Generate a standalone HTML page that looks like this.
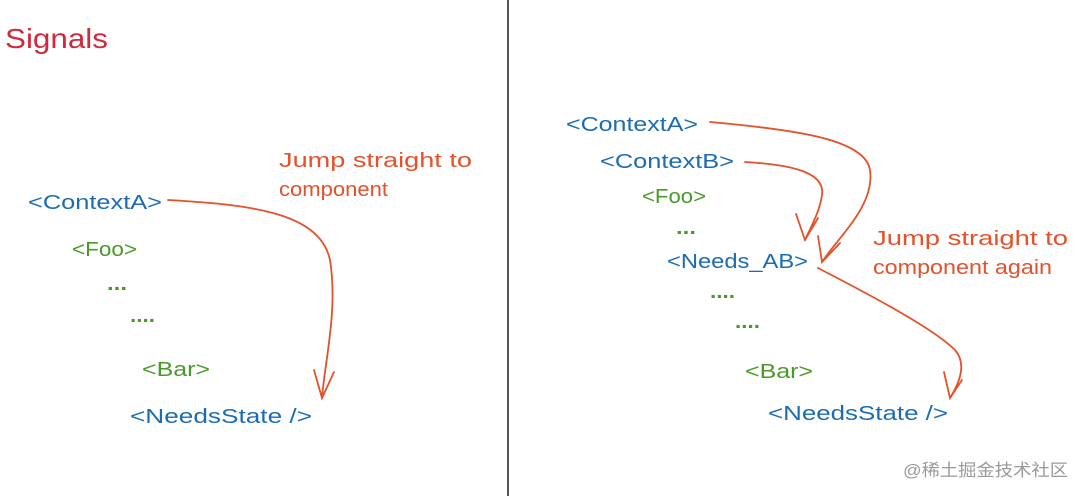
<!DOCTYPE html>
<html><head><meta charset="utf-8"><style>
html,body{margin:0;padding:0;background:#fff;}
svg{display:block}
text{font-family:"Liberation Sans","Noto Sans CJK SC",sans-serif;}
</style></head><body>
<svg width="1080" height="496" viewBox="0 0 1080 496" xmlns="http://www.w3.org/2000/svg">
<rect width="1080" height="496" fill="#fff"/>
<line x1="508" y1="0" x2="508" y2="496" stroke="#555" stroke-width="2"/>
<text x="5" y="48" font-size="28" fill="#d0283c" textLength="103" lengthAdjust="spacingAndGlyphs">Signals</text>
<g font-size="20" fill="#1c6cb4">
<text x="28" y="209" textLength="134" lengthAdjust="spacingAndGlyphs">&lt;ContextA&gt;</text>
<text x="130" y="423" textLength="182" lengthAdjust="spacingAndGlyphs">&lt;NeedsState /&gt;</text>
<text x="566" y="131" textLength="132" lengthAdjust="spacingAndGlyphs">&lt;ContextA&gt;</text>
<text x="600" y="168" textLength="134" lengthAdjust="spacingAndGlyphs">&lt;ContextB&gt;</text>
<text x="667" y="268" textLength="141" lengthAdjust="spacingAndGlyphs">&lt;Needs_AB&gt;</text>
<text x="768" y="420" textLength="180" lengthAdjust="spacingAndGlyphs">&lt;NeedsState /&gt;</text>
</g>
<g font-size="20" fill="#4a9a2a" font-weight="bold">
<text x="72" y="256" textLength="65" lengthAdjust="spacingAndGlyphs" font-weight="normal">&lt;Foo&gt;</text>
<text x="107" y="290" textLength="20" lengthAdjust="spacingAndGlyphs">...</text>
<text x="130" y="322" textLength="25" lengthAdjust="spacingAndGlyphs">....</text>
<text x="142" y="376" textLength="68" lengthAdjust="spacingAndGlyphs" font-weight="normal">&lt;Bar&gt;</text>
<text x="642" y="203" textLength="64" lengthAdjust="spacingAndGlyphs" font-weight="normal">&lt;Foo&gt;</text>
<text x="676" y="234" textLength="20" lengthAdjust="spacingAndGlyphs">...</text>
<text x="710" y="298" textLength="25" lengthAdjust="spacingAndGlyphs">....</text>
<text x="735" y="328" textLength="25" lengthAdjust="spacingAndGlyphs">....</text>
<text x="745" y="378" textLength="68" lengthAdjust="spacingAndGlyphs" font-weight="normal">&lt;Bar&gt;</text>
</g>
<g font-size="20" fill="#e4512a">
<text x="279" y="167" textLength="193" lengthAdjust="spacingAndGlyphs">Jump straight to</text>
<text x="279" y="196" textLength="109" lengthAdjust="spacingAndGlyphs">component</text>
<text x="873" y="245" textLength="195" lengthAdjust="spacingAndGlyphs">Jump straight to</text>
<text x="873" y="274" textLength="179" lengthAdjust="spacingAndGlyphs">component again</text>
</g>
<g fill="none" stroke="#e4512a" stroke-width="1.8" stroke-linecap="round">
<path d="M168 200 C260 205 320 215 330 260 C338 310 325 360 322 398"/>
<path d="M314 370 L322 398 L334 372"/>
<path d="M710 122 C800 130 865 140 870 170 C875 205 840 235 822 262"/>
<path d="M818 236 L822 262 L840 243"/>
<path d="M745 162 C800 165 825 175 822 195 C820 210 812 225 805 240"/>
<path d="M796 214 L805 240 L818 218"/>
<path d="M818 268 C880 300 935 330 955 350 C968 365 958 385 950 398"/>
<path d="M944 372 L950 398 L962 380"/>
</g>
<text x="903" y="476" font-size="17" fill="#9a9a9a" textLength="165" lengthAdjust="spacingAndGlyphs">@稀土掘金技术社区</text>
</svg>
</body></html>
